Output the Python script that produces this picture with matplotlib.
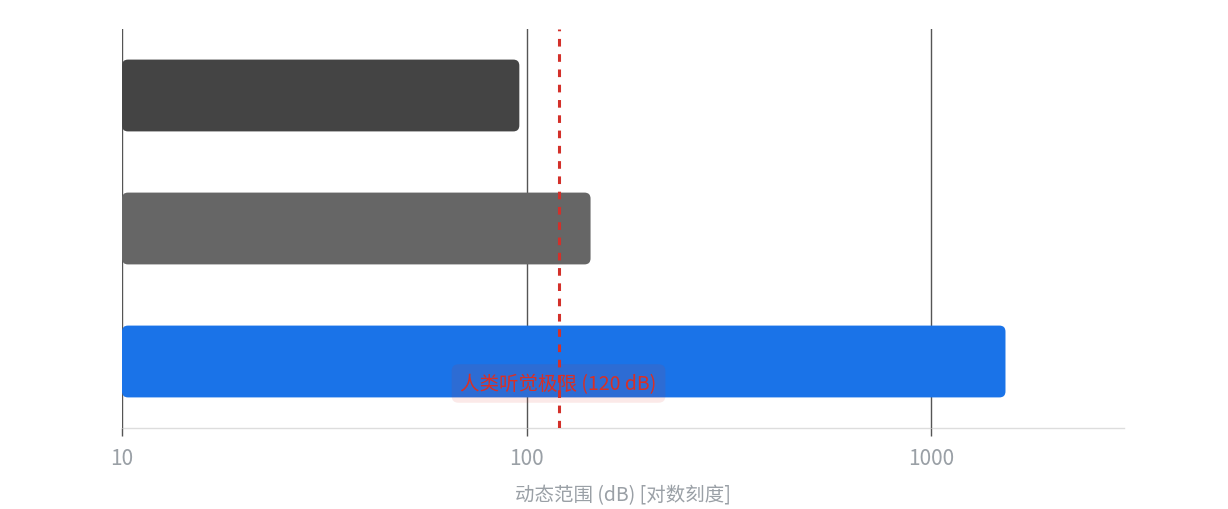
import matplotlib
matplotlib.use('Agg')
import matplotlib.pyplot as plt
from matplotlib.patches import FancyBboxPatch
from matplotlib.transforms import IdentityTransform

# ---- data ----
categories = ['16-bit PCM', '24-bit PCM', '32-bit 浮点']
values = [96, 144, 1528]
bar_colors = ['#444444', '#666666', '#1A73E8']
threshold = 120
threshold_label = '人类听觉极限 (120 dB)'
xticks = [10, 100, 1000]
xtick_labels = ['10', '100', '1000']
xlabel = '动态范围 (dB) [对数刻度]'
x_min, x_max = 10, 3000

plt.rcParams['font.family'] = ['Noto Sans CJK SC', 'DejaVu Sans']

W, H = 1228, 510
fig = plt.figure(figsize=(W / 100, H / 100), dpi=100)
ax = fig.add_axes([122 / W, 81 / H, 1002 / W, 399 / H])
ax.set_xscale('log')
ax.set_xlim(x_min, x_max)
ax.set_ylim(len(categories) - 0.5, -0.5)

ypos = list(range(len(categories)))
bar_h = 0.54
bars = ax.barh(ypos, [v - x_min for v in values], height=bar_h, left=x_min,
               color=bar_colors, zorder=2)

# replace bars with rounded versions drawn in display space
fig.canvas.draw()
for b, c in zip(bars, bar_colors):
    x0, y0 = b.get_x(), b.get_y()
    x1, y1 = x0 + b.get_width(), y0 + b.get_height()
    (px0, py0), (px1, py1) = ax.transData.transform([(x0, y0), (x1, y1)])
    left, right = min(px0, px1), max(px0, px1)
    bottom, top = min(py0, py1), max(py0, py1)
    r = 6
    patch = FancyBboxPatch((left + r, bottom + r), right - left - 2 * r, top - bottom - 2 * r,
                           boxstyle=f'round,pad={r},rounding_size={r}',
                           transform=IdentityTransform(), facecolor=c, edgecolor='none',
                           zorder=2)
    ax.add_artist(patch)
    b.set_visible(False)

# grid / ticks
ax.set_xticks(xticks)
ax.set_xticklabels(xtick_labels)
ax.xaxis.set_minor_locator(matplotlib.ticker.NullLocator())
ax.grid(axis='x', which='major', color='#555555', linewidth=1.0, zorder=1)
ax.tick_params(axis='x', which='major', length=6, width=1.0, color='#555555',
               labelcolor='#9AA0A6', labelsize=15, pad=7.5)
ax.set_yticks([])
for s in ['left', 'top', 'right']:
    ax.spines[s].set_visible(False)
ax.spines['bottom'].set_color('#DDDDDD')
ax.spines['bottom'].set_linewidth(1.0)
ax.spines['bottom'].set_zorder(0)

# threshold line
ax.axvline(threshold, color='#D3302A', linewidth=2.2, linestyle=(0, (2.5, 2.5)), zorder=3)

ax.annotate(threshold_label, xy=(threshold, ypos[-1]), xytext=(0, -22),
            textcoords='offset pixels', ha='center', va='center',
            color='#D93025', fontsize=14, zorder=4,
            bbox=dict(boxstyle='round,pad=0.45,rounding_size=0.35',
                      facecolor=(217 / 255, 48 / 255, 37 / 255, 0.1), edgecolor='none'))

ax.set_xlabel(xlabel, color='#9AA0A6', fontsize=14, labelpad=11)

fig.savefig('out.png', dpi=100)
